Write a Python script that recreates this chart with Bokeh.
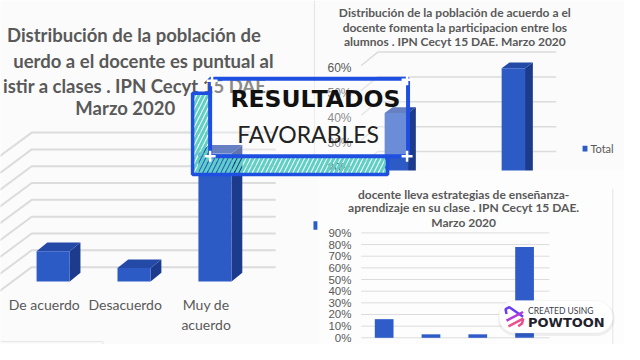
from bokeh.plotting import figure
from bokeh.models import Range1d, BoxAnnotation, Label
from bokeh.core.properties import value
from bokeh.embed import file_html
from bokeh.resources import INLINE

# ---------------- data ----------------
L_TITLE = ["Distribución de la población de",
           "uerdo a el docente es puntual al",
           "istir a clases . IPN Cecyt 15 DAE.",
           "Marzo 2020"]
L_CATS = ["De acuerdo", "Desacuerdo", "Muy de\nacuerdo"]
L_VALS = [18, 8, 76]
L_GRID = [10, 20, 30, 40, 50, 60, 70, 80, 90]

R_TITLE = ["Distribución de la población de acuerdo a el",
           "docente fomenta la participacion entre los",
           "alumnos . IPN Cecyt 15 DAE. Marzo 2020"]
R_VALS = [0.42, 0.60]
R_TICKS = [0.2, 0.3, 0.4, 0.5, 0.6]
R_TICK_LABELS = ["20%", "30%", "40%", "50%", "60%"]
R_LEGEND = "Total"

B_TITLE = ["docente lleva estrategias de enseñanza-",
           "aprendizaje en su clase . IPN Cecyt 15 DAE.",
           "Marzo 2020"]
B_VALS = [0.16, 0.03, 0.03, 0.78]
B_TICKS = [0.0, 0.1, 0.2, 0.3, 0.4, 0.5, 0.6, 0.7, 0.8, 0.9]
B_TICK_LABELS = ["0%", "10%", "20%", "30%", "40%", "50%", "60%", "70%", "80%", "90%"]

OVER_1 = "RESULTADOS"
OVER_2 = "FAVORABLES"
WM_1 = "CREATED USING"
WM_2 = "POWTOON"

# ---------------- styling / layout ----------------
X0, X1, Y0, Y1 = 0, 640, 360, 0
GRAY = "#595959"
GRID = "#dcdcdc"
FRONT, SIDE, TOP = "#2c5bc5", "#1d3b8c", "#2549a6"
BLUE = "#1f4fe0"
TEAL = "#5fd0c6"
TF = value("Lato")

def xr(px0, s):
    return Range1d(start=(X0 - px0) / s, end=(X1 - px0) / s)

def yr(py0, k):
    return Range1d(start=(py0 - Y0) / k, end=(py0 - Y1) / k)

p = figure(width=624, height=344, x_range=Range1d(X0, X1), y_range=Range1d(Y0, Y1),
           x_axis_type=None, y_axis_type=None, toolbar_location=None,
           output_backend="svg", min_border=0,
           background_fill_color="#fbfbfb", border_fill_color="#fbfbfb",
           outline_line_color=None)
p.extra_x_ranges = {"L": xr(54, 83), "R": xr(406, 120), "B": xr(393.5, 48)}
p.extra_y_ranges = {"L": yr(294, 1.76), "R": yr(227, 260), "B": yr(353, 122)}


def bars3d(vals, w, dx, dy, rn):
    idx = list(range(len(vals)))
    kw = dict(x_range_name=rn, y_range_name=rn, line_color=None)
    p.patches([[i + w / 2, i + w / 2 + dx, i + w / 2 + dx, i + w / 2] for i in idx],
              [[0, dy, v + dy, v] for v in vals], fill_color=SIDE, **kw)
    p.patches([[i - w / 2, i - w / 2 + dx, i + w / 2 + dx, i + w / 2] for i in idx],
              [[v, v + dy, v + dy, v] for v in vals], fill_color=TOP, **kw)
    p.quad(left=[i - w / 2 for i in idx], right=[i + w / 2 for i in idx],
           bottom=[0] * len(vals), top=vals, fill_color=FRONT, **kw)


# faint screenshot borders
p.segment(x0=[322, 628, 0, 105], y0=[0, 197, 357, 357], x1=[322, 628, 105, 105],
          y1=[178, 360, 357, 360], line_color="#e4e4e4", line_width=1)

# ---------------- left chart ----------------
off = -1.5
p.multi_line(xs=[[-0.75, -0.265, 2.75] for g in L_GRID],
             ys=[[g + off - 17.3, g + off, g + off] for g in L_GRID],
             line_color=GRID, line_width=2, x_range_name="L", y_range_name="L")
bars3d(L_VALS, 34 / 83, 11 / 83, 9 / 1.76, "L")
p.text(x=[i - 0.11 for i in range(len(L_CATS))], y=[-8.5] * len(L_CATS), text=L_CATS,
       text_font=TF, text_font_size="14px", text_color=GRAY, text_align="center",
       text_baseline="top", text_line_height=1.2, x_range_name="L", y_range_name="L")
p.text(x=[267, 280, 277, 128], y=[36, 63, 89, 113], text=L_TITLE, text_font=TF,
       text_font_style="bold", text_font_size="18.5px", text_color=GRAY,
       text_align=["right", "right", "right", "center"], text_baseline="middle")
p.quad(left=[321], right=[325], top=[231], bottom=[240], fill_color=FRONT, line_color=None)

# ---------------- top-right chart ----------------
back = 17 / 260
p.multi_line(xs=[[-0.30, -0.158, 1.367] for t in R_TICKS],
             ys=[[t + 3 / 260, t + back, t + back] for t in R_TICKS],
             line_color=GRID, line_width=1.5, x_range_name="R", y_range_name="R")
p.text(x=[-0.383] * len(R_TICKS), y=R_TICKS, text=R_TICK_LABELS,
       text_font=value("Liberation Sans"), text_font_size="12px", text_color=GRAY,
       text_align="right", text_baseline="middle", x_range_name="R", y_range_name="R")
bars3d(R_VALS, 24 / 120, 8 / 120, 6 / 260, "R")
p.text(x=[466] * 3, y=[13, 28, 43], text=R_TITLE, text_font=TF, text_font_style="bold",
       text_font_size="12px", text_color=GRAY, text_align="center", text_baseline="middle")
p.quad(left=[597], right=[602], top=[152], bottom=[158], fill_color=FRONT, line_color=None)
p.text(x=[605], y=[155], text=[R_LEGEND], text_font=TF, text_font_size="11px",
       text_color=GRAY, text_baseline="middle")

# ---------------- bottom-right chart ----------------
p.quad(left=[326], right=[640], top=[178], bottom=[360], fill_color="#fdfdfd", line_color=None)
p.segment(x0=[628], y0=[197], x1=[628], y1=[360], line_color="#e4e4e4", line_width=1)
p.multi_line(xs=[[-0.49, 3.53] for t in B_TICKS], ys=[[t, t] for t in B_TICKS],
             line_color=GRID, line_width=1, x_range_name="B", y_range_name="B")
p.text(x=[-0.70] * len(B_TICKS), y=B_TICKS, text=B_TICK_LABELS,
       text_font=value("Liberation Sans"), text_font_size="11.5px", text_color=GRAY,
       text_align="right", text_baseline="middle", x_range_name="B", y_range_name="B")
bidx = list(range(len(B_VALS)))
p.vbar(x=bidx, width=0.4, bottom=0, top=B_VALS, fill_color="#2f5cc8", line_color=None,
       x_range_name="B", y_range_name="B")
p.text(x=[475] * 3, y=[203, 217, 232], text=B_TITLE, text_font=TF, text_font_style="bold",
       text_font_size="12px", text_color=GRAY, text_align="center", text_baseline="middle")

# ---------------- overlay box ----------------
p.quad(left=[197, 197], right=[215, 397], top=[97, 163], bottom=[163, 182],
       fill_alpha=0, line_color=None, hatch_pattern="/", hatch_color=TEAL,
       hatch_weight=3, hatch_scale=9)
p.line(x=[215, 197, 197, 397, 397], y=[97, 97, 182, 182, 163], line_color=BLUE, line_width=3.5)
p.quad(left=[215], right=[418], top=[82], bottom=[163], fill_color="white", fill_alpha=0.3,
       line_color=BLUE, line_width=4)
p.scatter(x=[217, 417, 215, 417], y=[84, 83, 163, 163], marker="cross", size=11,
          line_color="white", line_width=2.5)
p.text(x=[323], y=[103], text=[OVER_1], text_font=value("DejaVu Sans"), text_font_style="bold",
       text_font_size="23.5px", text_color="#111111", text_align="center", text_baseline="middle")
p.text(x=[315.5], y=[140], text=[OVER_2], text_font=TF, text_font_size="23px",
       text_color="#222222", text_align="center", text_baseline="middle")

# ---------------- watermark ----------------
p.add_layout(BoxAnnotation(left=510, right=630, top=315, bottom=351, border_radius=18,
                           fill_color="black", fill_alpha=0.06, line_color=None))
p.add_layout(BoxAnnotation(left=511, right=628, top=314, bottom=348, border_radius=17,
                           fill_color="white", fill_alpha=1, line_color="#e6e6e6"))
logo = p.multi_line(xs=[[519, 518, 522, 536], [519, 536], [521, 536, 535, 531]],
                    ys=[[328, 323, 321, 331], [335, 326], [341, 333, 338, 341]],
                    line_color=["#6a3df0", "#b03ad8", "#ec4f8c"], line_width=2.5)
logo.level = "overlay"
p.add_layout(Label(x=541, y=325, text=WM_1, text_font="Lato", text_font_size="8.5px",
                   text_color="#3a3a4a", text_baseline="middle"))
p.add_layout(Label(x=541, y=337, text=WM_2, text_font="DejaVu Sans", text_font_style="bold",
                   text_font_size="13px", text_color="#22222e", text_baseline="middle"))

open("out.html", "w").write(file_html(p, INLINE))
